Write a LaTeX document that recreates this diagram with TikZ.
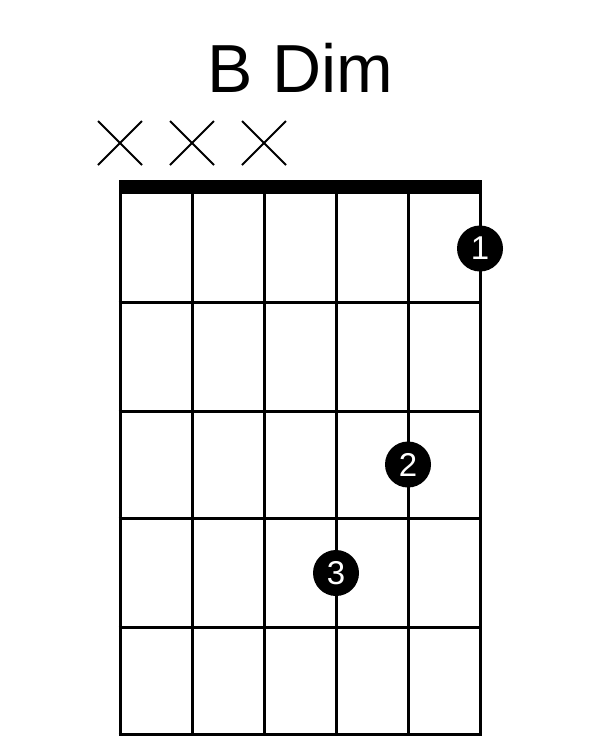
\documentclass[tikz,border=0pt]{standalone}
\usepackage{fontspec}
\setmainfont{Liberation Sans}
\usetikzlibrary{positioning}

\tikzset{
    finger/.style={circle, fill=black, text=white, inner sep=0pt, minimum size=46pt, font=\fontsize{33}{33}\selectfont},
    mute/.style={line width=1.8pt},
}

\begin{document}
\begin{tikzpicture}[x=1pt, y=-1pt, line width=3pt]
    \useasboundingbox (0,0) rectangle (600,745);
    
    % Title
    \node[anchor=base, inner sep=0pt, font=\fontsize{68}{68}\selectfont] (title) at (300.5,92) {B Dim};
    
    % Muted strings
    \draw[mute] (98,121)--(142,165);
    \draw[mute] (98,165)--(142,121);
    \draw[mute] (170,121)--(214,165);
    \draw[mute] (170,165)--(214,121);
    \draw[mute] (242,121)--(286,165);
    \draw[mute] (242,165)--(286,121);
    
    % Nut
    \fill (118.5,180) rectangle (481.5,194);
    
    % Strings
    \draw (120,194)--(120,735.5);
    \draw (192,194)--(192,735.5);
    \draw (264,194)--(264,735.5);
    \draw (336,194)--(336,735.5);
    \draw (408,194)--(408,735.5);
    \draw (480,194)--(480,735.5);
    
    % Frets
    \draw (118.5,302)--(481.5,302);
    \draw (118.5,411)--(481.5,411);
    \draw (118.5,518)--(481.5,518);
    \draw (118.5,627)--(481.5,627);
    \draw (118.5,734)--(481.5,734);
    
    % Fingers
    \node[finger] (f1) at (480,248.5) {1};
    \node[finger] (f2) at (408,464.5) {2};
    \node[finger] (f3) at (336,573) {3};
    
\end{tikzpicture}
\end{document}
